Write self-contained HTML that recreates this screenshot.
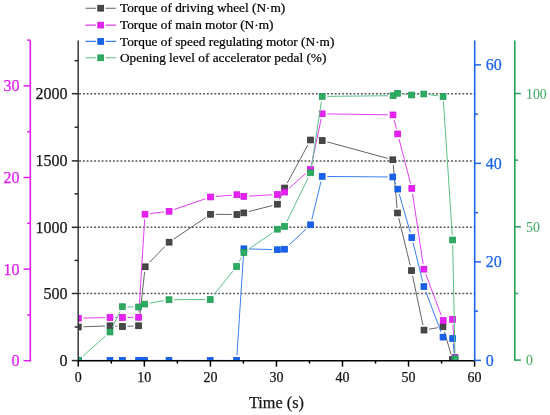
<!DOCTYPE html>
<html><head><meta charset="utf-8"><title>Chart</title>
<style>
html,body{margin:0;padding:0;background:#fff;}
body{width:550px;height:415px;overflow:hidden;}
svg{display:block;}
text{font-family:"Liberation Serif","Times New Roman",serif;fill:#151515;stroke:#151515;stroke-width:0.25px;}
.l{font-size:16px;}
.s{font-size:14px;}
.sg{font-size:13.8px;}
.t{font-size:16.3px;}
.lg{font-size:13.3px;fill:#000;stroke:#000;stroke-width:0.22px;}
.m{fill:#e21cf0;stroke:#e21cf0;}
.b{fill:#1d64e8;stroke:#1d64e8;}
.g{fill:#45ad68;stroke:#45ad68;stroke-width:0.1px;}
</style></head><body>
<svg width="550" height="415" viewBox="0 0 550 415"><line x1="79.12" y1="293.50" x2="474.60" y2="293.50" stroke="#555555" stroke-width="1.5" stroke-dasharray="1.88 1.8775"/><line x1="79.12" y1="227.30" x2="474.60" y2="227.30" stroke="#555555" stroke-width="1.5" stroke-dasharray="1.88 1.8775"/><line x1="79.12" y1="160.90" x2="474.60" y2="160.90" stroke="#555555" stroke-width="1.5" stroke-dasharray="1.88 1.8775"/><line x1="79.12" y1="93.70" x2="474.60" y2="93.70" stroke="#555555" stroke-width="1.5" stroke-dasharray="1.88 1.8775"/><clipPath id="c"><rect x="78.30" y="40" width="396.30" height="320.20"/></clipPath><g clip-path="url(#c)"><g><path d="M83.40 326.81L104.90 325.99M115.10 326.09L117.30 326.21M127.50 326.28L133.50 326.02M139.17 320.71L144.63 271.89M149.66 262.21L164.64 246.79M173.89 238.97L205.71 217.53M215.60 214.34L231.80 214.46M248.84 211.59L272.36 205.51M279.60 199.26L282.40 192.94M287.24 183.12L307.86 144.88M315.60 140.22L317.10 140.28M327.24 141.88L387.76 158.42M393.25 164.89L397.05 207.91M398.73 218.05L410.27 265.55M412.56 275.66L422.94 325.04M429.07 329.22L437.93 327.68M444.46 331.83L451.04 354.47" stroke="#646464" stroke-width="1.00" fill="none"/><g fill="#484848" stroke="#333333" stroke-width="0.8"><rect x="75.40" y="324.10" width="5.80" height="5.80"/><rect x="107.10" y="322.90" width="5.80" height="5.80"/><rect x="119.50" y="323.60" width="5.80" height="5.80"/><rect x="135.70" y="322.90" width="5.80" height="5.80"/><rect x="142.30" y="263.90" width="5.80" height="5.80"/><rect x="166.20" y="239.30" width="5.80" height="5.80"/><rect x="207.60" y="211.40" width="5.80" height="5.80"/><rect x="234.00" y="211.60" width="5.80" height="5.80"/><rect x="240.90" y="210.00" width="5.80" height="5.80"/><rect x="274.50" y="201.30" width="5.80" height="5.80"/><rect x="281.70" y="185.10" width="5.80" height="5.80"/><rect x="307.60" y="137.10" width="5.80" height="5.80"/><rect x="319.30" y="137.60" width="5.80" height="5.80"/><rect x="389.90" y="156.90" width="5.80" height="5.80"/><rect x="394.60" y="210.10" width="5.80" height="5.80"/><rect x="408.60" y="267.70" width="5.80" height="5.80"/><rect x="421.10" y="327.20" width="5.80" height="5.80"/><rect x="440.10" y="323.90" width="5.80" height="5.80"/><rect x="449.60" y="356.60" width="5.80" height="5.80"/></g></g><g><path d="M83.40 318.09L104.90 317.61M115.10 317.50L117.30 317.50M127.50 317.44L133.50 317.36M138.92 312.20L144.68 219.30M150.09 213.59L164.01 211.91M174.10 209.57L205.50 198.73M215.59 196.56L231.81 195.14M248.90 196.11L272.30 194.79M289.25 188.02L305.85 173.48M311.57 164.34L321.13 118.86M327.30 113.88L387.90 114.82M394.25 119.95L396.45 128.85M399.00 138.94L410.50 183.36M412.56 193.48L423.14 264.12M425.78 274.18L441.32 315.52M452.92 324.50L454.68 352.20" stroke="#e040f0" stroke-width="1.00" fill="none"/><g fill="#e622f2" stroke="#d612e8" stroke-width="0.8"><rect x="75.40" y="315.30" width="5.80" height="5.80"/><rect x="107.10" y="314.60" width="5.80" height="5.80"/><rect x="119.50" y="314.60" width="5.80" height="5.80"/><rect x="135.70" y="314.40" width="5.80" height="5.80"/><rect x="142.10" y="211.30" width="5.80" height="5.80"/><rect x="166.20" y="208.40" width="5.80" height="5.80"/><rect x="207.60" y="194.10" width="5.80" height="5.80"/><rect x="234.00" y="191.80" width="5.80" height="5.80"/><rect x="240.90" y="193.50" width="5.80" height="5.80"/><rect x="274.50" y="191.60" width="5.80" height="5.80"/><rect x="281.70" y="189.20" width="5.80" height="5.80"/><rect x="307.60" y="166.50" width="5.80" height="5.80"/><rect x="319.30" y="110.90" width="5.80" height="5.80"/><rect x="390.10" y="112.00" width="5.80" height="5.80"/><rect x="394.80" y="131.00" width="5.80" height="5.80"/><rect x="408.90" y="185.50" width="5.80" height="5.80"/><rect x="421.00" y="266.30" width="5.80" height="5.80"/><rect x="440.30" y="317.60" width="5.80" height="5.80"/><rect x="449.70" y="316.50" width="5.80" height="5.80"/><rect x="452.10" y="354.40" width="5.80" height="5.80"/></g></g><g><path d="M83.40 360.40L104.90 360.40M115.10 360.40L117.30 360.40M127.50 360.40L133.50 360.40M149.70 360.40L163.90 360.40M174.10 360.40L205.10 360.40M215.30 360.40L231.50 360.40M236.93 355.30L243.57 253.90M249.00 248.94L272.30 249.56M289.11 244.89L305.99 229.11M311.81 219.75L320.99 181.45M327.30 176.44L387.70 176.96M394.85 181.96L395.75 184.14M399.25 194.13L410.35 232.57M413.05 242.65L422.65 281.55M425.78 291.58L441.12 332.12M453.23 343.59L454.47 355.31" stroke="#3a7ff0" stroke-width="1.00" fill="none"/><g fill="#1a62ea" stroke="#0c55e0" stroke-width="0.8"><rect x="75.40" y="357.50" width="5.80" height="5.80"/><rect x="107.10" y="357.50" width="5.80" height="5.80"/><rect x="119.50" y="357.50" width="5.80" height="5.80"/><rect x="135.70" y="357.50" width="5.80" height="5.80"/><rect x="141.70" y="357.50" width="5.80" height="5.80"/><rect x="166.10" y="357.50" width="5.80" height="5.80"/><rect x="207.30" y="357.50" width="5.80" height="5.80"/><rect x="233.70" y="357.50" width="5.80" height="5.80"/><rect x="241.00" y="245.90" width="5.80" height="5.80"/><rect x="274.50" y="246.80" width="5.80" height="5.80"/><rect x="281.60" y="246.30" width="5.80" height="5.80"/><rect x="307.70" y="221.90" width="5.80" height="5.80"/><rect x="319.30" y="173.50" width="5.80" height="5.80"/><rect x="389.90" y="174.10" width="5.80" height="5.80"/><rect x="394.90" y="186.20" width="5.80" height="5.80"/><rect x="408.90" y="234.70" width="5.80" height="5.80"/><rect x="421.00" y="283.70" width="5.80" height="5.80"/><rect x="440.10" y="334.20" width="5.80" height="5.80"/><rect x="449.80" y="335.60" width="5.80" height="5.80"/><rect x="452.10" y="357.50" width="5.80" height="5.80"/></g></g><g><path d="M82.94 356.07L105.36 336.13M112.41 327.08L119.99 311.62M127.50 306.79L133.50 306.91M149.67 303.19L163.93 300.61M174.10 299.68L205.10 299.52M213.96 294.79L232.84 271.21M239.15 261.60L241.35 257.40M248.68 249.18L272.62 232.52M286.89 221.48L308.21 177.72M311.37 167.72L321.43 101.48M327.30 96.35L388.00 95.75M402.69 93.92L406.41 94.38M416.59 94.59L418.71 94.41M428.89 94.66L438.01 95.84M443.44 101.60L452.26 234.90M452.70 245.10L454.90 353.50" stroke="#5cc088" stroke-width="1.00" fill="none"/><g fill="#2eab62" stroke="#1f9c52" stroke-width="0.8"><rect x="75.40" y="357.30" width="5.80" height="5.80"/><rect x="107.10" y="329.10" width="5.80" height="5.80"/><rect x="119.50" y="303.80" width="5.80" height="5.80"/><rect x="135.70" y="304.10" width="5.80" height="5.80"/><rect x="141.70" y="301.20" width="5.80" height="5.80"/><rect x="166.10" y="296.80" width="5.80" height="5.80"/><rect x="207.30" y="296.60" width="5.80" height="5.80"/><rect x="233.70" y="263.60" width="5.80" height="5.80"/><rect x="241.00" y="249.60" width="5.80" height="5.80"/><rect x="274.50" y="226.30" width="5.80" height="5.80"/><rect x="281.60" y="223.50" width="5.80" height="5.80"/><rect x="307.70" y="169.90" width="5.80" height="5.80"/><rect x="319.30" y="93.50" width="5.80" height="5.80"/><rect x="390.20" y="92.80" width="5.80" height="5.80"/><rect x="394.70" y="90.40" width="5.80" height="5.80"/><rect x="408.60" y="92.10" width="5.80" height="5.80"/><rect x="420.90" y="91.10" width="5.80" height="5.80"/><rect x="440.20" y="93.60" width="5.80" height="5.80"/><rect x="449.70" y="237.10" width="5.80" height="5.80"/><rect x="452.10" y="355.70" width="5.80" height="5.80"/></g></g></g><line x1="78.2" y1="40.4" x2="78.2" y2="361.60" stroke="#2a2a2a" stroke-width="1.4"/><line x1="77.50" y1="360.70" x2="474.60" y2="360.70" stroke="#000" stroke-width="1.5"/><line x1="71.8" y1="360.60" x2="78.30" y2="360.60" stroke="#2a2a2a" stroke-width="1.5"/><line x1="71.8" y1="293.50" x2="78.30" y2="293.50" stroke="#2a2a2a" stroke-width="1.5"/><line x1="71.8" y1="227.30" x2="78.30" y2="227.30" stroke="#2a2a2a" stroke-width="1.5"/><line x1="71.8" y1="160.90" x2="78.30" y2="160.90" stroke="#2a2a2a" stroke-width="1.5"/><line x1="71.8" y1="93.70" x2="78.30" y2="93.70" stroke="#2a2a2a" stroke-width="1.5"/><line x1="74.6" y1="327.01" x2="78.30" y2="327.01" stroke="#2a2a2a" stroke-width="1.5"/><line x1="74.6" y1="260.43" x2="78.30" y2="260.43" stroke="#2a2a2a" stroke-width="1.5"/><line x1="74.6" y1="193.85" x2="78.30" y2="193.85" stroke="#2a2a2a" stroke-width="1.5"/><line x1="74.6" y1="127.27" x2="78.30" y2="127.27" stroke="#2a2a2a" stroke-width="1.5"/><line x1="74.6" y1="60.69" x2="78.30" y2="60.69" stroke="#2a2a2a" stroke-width="1.5"/><line x1="78.30" y1="360.80" x2="78.30" y2="366.6" stroke="#000" stroke-width="1.5"/><line x1="144.35" y1="360.80" x2="144.35" y2="366.6" stroke="#000" stroke-width="1.5"/><line x1="210.40" y1="360.80" x2="210.40" y2="366.6" stroke="#000" stroke-width="1.5"/><line x1="276.45" y1="360.80" x2="276.45" y2="366.6" stroke="#000" stroke-width="1.5"/><line x1="342.50" y1="360.80" x2="342.50" y2="366.6" stroke="#000" stroke-width="1.5"/><line x1="408.55" y1="360.80" x2="408.55" y2="366.6" stroke="#000" stroke-width="1.5"/><line x1="474.60" y1="360.80" x2="474.60" y2="366.6" stroke="#000" stroke-width="1.5"/><line x1="111.32" y1="360.80" x2="111.32" y2="363.6" stroke="#000" stroke-width="1.5"/><line x1="177.38" y1="360.80" x2="177.38" y2="363.6" stroke="#000" stroke-width="1.5"/><line x1="243.43" y1="360.80" x2="243.43" y2="363.6" stroke="#000" stroke-width="1.5"/><line x1="309.48" y1="360.80" x2="309.48" y2="363.6" stroke="#000" stroke-width="1.5"/><line x1="375.53" y1="360.80" x2="375.53" y2="363.6" stroke="#000" stroke-width="1.5"/><line x1="441.57" y1="360.80" x2="441.57" y2="363.6" stroke="#000" stroke-width="1.5"/><line x1="30.30" y1="40.2" x2="30.30" y2="361.40" stroke="#e21cf0" stroke-width="1.6"/><line x1="23.6" y1="360.70" x2="30.30" y2="360.70" stroke="#e21cf0" stroke-width="1.5"/><line x1="23.6" y1="269.10" x2="30.30" y2="269.10" stroke="#e21cf0" stroke-width="1.5"/><line x1="23.6" y1="177.50" x2="30.30" y2="177.50" stroke="#e21cf0" stroke-width="1.5"/><line x1="23.6" y1="85.90" x2="30.30" y2="85.90" stroke="#e21cf0" stroke-width="1.5"/><line x1="27.2" y1="314.90" x2="30.30" y2="314.90" stroke="#e21cf0" stroke-width="1.5"/><line x1="27.2" y1="223.30" x2="30.30" y2="223.30" stroke="#e21cf0" stroke-width="1.5"/><line x1="27.2" y1="131.70" x2="30.30" y2="131.70" stroke="#e21cf0" stroke-width="1.5"/><line x1="27.2" y1="40.10" x2="30.30" y2="40.10" stroke="#e21cf0" stroke-width="1.5"/><line x1="474.70" y1="40.4" x2="474.70" y2="360.80" stroke="#1d64e8" stroke-width="1.6"/><line x1="474.70" y1="360.40" x2="481.0" y2="360.40" stroke="#1d64e8" stroke-width="1.5"/><line x1="474.70" y1="261.90" x2="481.0" y2="261.90" stroke="#1d64e8" stroke-width="1.5"/><line x1="474.70" y1="163.40" x2="481.0" y2="163.40" stroke="#1d64e8" stroke-width="1.5"/><line x1="474.70" y1="64.90" x2="481.0" y2="64.90" stroke="#1d64e8" stroke-width="1.5"/><line x1="474.70" y1="311.15" x2="478.0" y2="311.15" stroke="#1d64e8" stroke-width="1.5"/><line x1="474.70" y1="212.65" x2="478.0" y2="212.65" stroke="#1d64e8" stroke-width="1.5"/><line x1="474.70" y1="114.15" x2="478.0" y2="114.15" stroke="#1d64e8" stroke-width="1.5"/><line x1="514.80" y1="40.4" x2="514.80" y2="360.80" stroke="#27a05a" stroke-width="1.6"/><line x1="514.10" y1="360.10" x2="520.9" y2="360.10" stroke="#27a05a" stroke-width="1.5"/><line x1="514.10" y1="226.80" x2="520.9" y2="226.80" stroke="#27a05a" stroke-width="1.5"/><line x1="514.10" y1="93.50" x2="520.9" y2="93.50" stroke="#27a05a" stroke-width="1.5"/><line x1="514.80" y1="293.45" x2="518.0" y2="293.45" stroke="#27a05a" stroke-width="1.5"/><line x1="514.80" y1="160.15" x2="518.0" y2="160.15" stroke="#27a05a" stroke-width="1.5"/><text x="67.6" y="366.00" text-anchor="end" class="l">0</text><text x="67.6" y="298.90" text-anchor="end" class="l">500</text><text x="67.6" y="232.70" text-anchor="end" class="l">1000</text><text x="67.6" y="166.30" text-anchor="end" class="l">1500</text><text x="67.6" y="99.10" text-anchor="end" class="l">2000</text><text x="19.6" y="366.20" text-anchor="end" class="l m">0</text><text x="19.6" y="274.60" text-anchor="end" class="l m">10</text><text x="19.6" y="183.00" text-anchor="end" class="l m">20</text><text x="19.6" y="91.40" text-anchor="end" class="l m">30</text><text x="485.8" y="365.80" class="l b">0</text><text x="485.8" y="267.30" class="l b">20</text><text x="485.8" y="168.80" class="l b">40</text><text x="485.8" y="70.30" class="l b">60</text><text x="526.0" y="365.20" class="sg g">0</text><text x="526.0" y="231.90" class="sg g">50</text><text x="526.0" y="98.60" class="sg g">100</text><text x="78.30" y="381.9" text-anchor="middle" class="s">0</text><text x="144.35" y="381.9" text-anchor="middle" class="s">10</text><text x="210.40" y="381.9" text-anchor="middle" class="s">20</text><text x="276.45" y="381.9" text-anchor="middle" class="s">30</text><text x="342.50" y="381.9" text-anchor="middle" class="s">40</text><text x="408.55" y="381.9" text-anchor="middle" class="s">50</text><text x="474.60" y="381.9" text-anchor="middle" class="s">60</text><text x="276.5" y="407.5" text-anchor="middle" class="t">Time (s)</text><path d="M85.5 8.20H96M105.5 8.20H116" stroke="#646464" stroke-width="1.1"/><rect x="97.80" y="5.30" width="5.8" height="5.8" fill="#484848" stroke="#333333" stroke-width="0.8"/><text x="120.0" y="12.20" class="lg">Torque of driving wheel (N·m)</text><path d="M85.5 25.10H96M105.5 25.10H116" stroke="#e040f0" stroke-width="1.1"/><rect x="97.80" y="22.20" width="5.8" height="5.8" fill="#e622f2" stroke="#d612e8" stroke-width="0.8"/><text x="120.0" y="28.70" class="lg">Torque of main motor (N·m)</text><path d="M85.5 41.40H96M105.5 41.40H116" stroke="#3a7ff0" stroke-width="1.1"/><rect x="97.80" y="38.50" width="5.8" height="5.8" fill="#1a62ea" stroke="#0c55e0" stroke-width="0.8"/><text x="120.0" y="45.50" class="lg">Torque of speed regulating motor (N·m)</text><path d="M85.5 57.80H96M105.5 57.80H116" stroke="#5cc088" stroke-width="1.1"/><rect x="97.80" y="54.90" width="5.8" height="5.8" fill="#2eab62" stroke="#1f9c52" stroke-width="0.8"/><text x="120.0" y="62.00" class="lg">Opening level of accelerator pedal (%)</text></svg>
</body></html>
